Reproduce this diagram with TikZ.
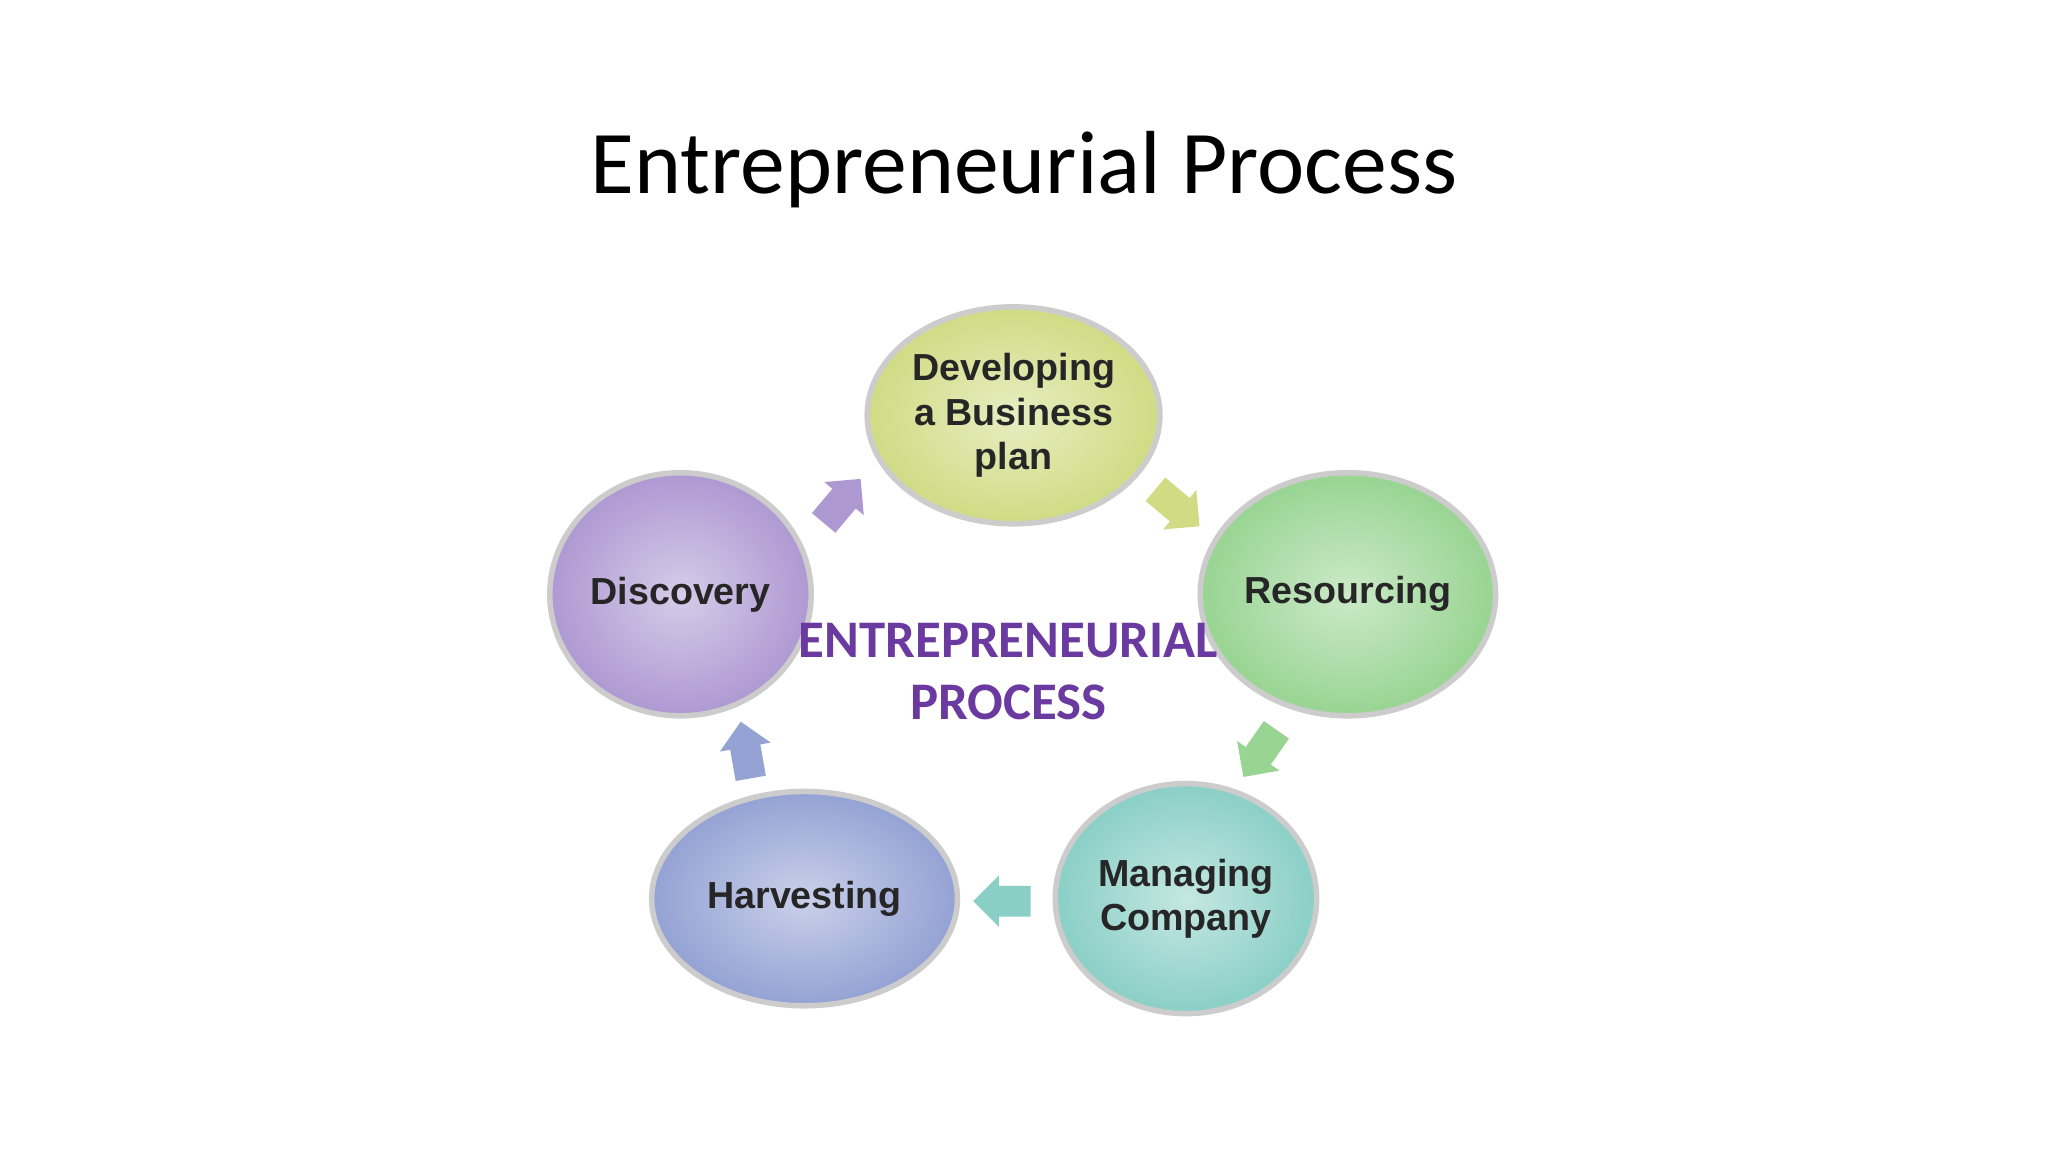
\documentclass[tikz,border=0pt]{standalone}
\usepackage{fontspec}
\setmainfont{Liberation Sans}
\newfontfamily\titlefont{Carlito}
\usetikzlibrary{shapes.geometric,shapes.arrows}
\definecolor{cdev}{HTML}{CFDC84}
\definecolor{cres}{HTML}{98D492}
\definecolor{cman}{HTML}{8ACFC6}
\definecolor{char}{HTML}{94A2D4}
\definecolor{cdis}{HTML}{AE98D2}
\definecolor{cproc}{HTML}{6A3AA0}
\tikzset{
 stage/.style={ellipse,draw=black!20,line width=1.2pt,inner sep=0pt,inner color=#1!50!white,outer color=#1},
 stagetext/.style={font=\fontsize{8.2}{9.6}\selectfont\bfseries,align=center,text=black!85},
 flow/.style={single arrow,fill=#1,minimum height=0.44cm,
   single arrow head extend=0.08cm,inner sep=0.11cm,text width=0pt,text height=0pt,text depth=0pt}
}
\begin{document}
\begin{tikzpicture}[x=0.01cm,y=-0.01cm]
\useasboundingbox[fill=white] (0,0) rectangle (1568,882);
\node[font=\titlefont\fontsize{19.5}{22}\selectfont] (title) at (784,130) {Entrepreneurial Process};
\node[stage=cdev,minimum width=2.24cm,minimum height=1.66cm] (dev) at (776,318) {};
\node[stage=cres,minimum width=2.26cm,minimum height=1.86cm] (res) at (1032,455) {};
\node[stage=cman,minimum width=2.0cm,minimum height=1.76cm] (man) at (908,688) {};
\node[stage=char,minimum width=2.34cm,minimum height=1.64cm] (har) at (616,688) {};
\node[stage=cdis,minimum width=2.0cm,minimum height=1.86cm] (dis) at (521,455) {};
\node[stagetext] (devt) at (dev.center) {Developing\\a Business\\plan};
\node[stagetext] (rest) at (res.center) {Resourcing};
\node[stagetext] (mant) at (man.center) {Managing\\Company};
\node[stagetext] (hart) at (har.center) {Harvesting};
\node[stagetext] (dist) at (dis.center) {Discovery};
\node[font=\titlefont\fontsize{11.5}{13.5}\selectfont\bfseries,text=cproc,align=center] (center) at (772,514) {ENTREPRENEURIAL\\PROCESS};
\node[flow=cdis,rotate=50] (a1) at (641,388) {};
\node[flow=cdev,rotate=-40] (a2) at (897,385) {};
\node[flow=cres,rotate=-125] (a3) at (968,572) {};
\node[flow=cman,rotate=180] (a4) at (773,690) {};
\node[flow=char,rotate=100] (a5) at (572,580) {};
\end{tikzpicture}
\end{document}
